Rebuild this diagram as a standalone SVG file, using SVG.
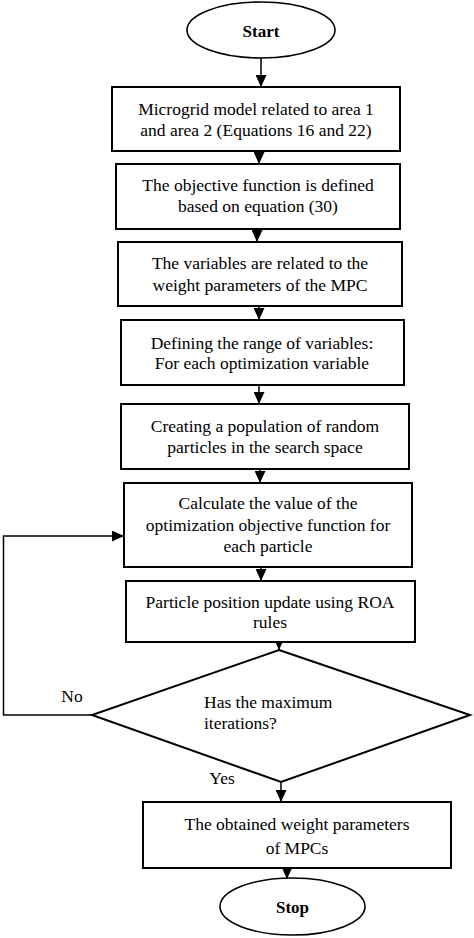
<svg xmlns="http://www.w3.org/2000/svg" width="474" height="938" viewBox="0 0 474 938">
<style>
.bx{fill:#fff;stroke:#000;stroke-width:2}
.el{fill:#fff;stroke:#000;stroke-width:1.6}
.t{font-family:"Liberation Serif","Times New Roman",serif;font-size:17.5px;fill:#000;text-anchor:middle}
.b{font-weight:bold;font-size:17px}
.l{text-anchor:start}
.c{fill:none;stroke:#000;stroke-width:1.5}
</style>
<defs>
<marker id="ah" viewBox="0 0 12 12" refX="12" refY="6" markerWidth="12" markerHeight="11" markerUnits="userSpaceOnUse" orient="auto" preserveAspectRatio="none">
<path d="M0,0 L12,6 L0,12 z" fill="#000"/>
</marker>
</defs>
<g id="connectors">
<line class="c" x1="261" y1="58" x2="261" y2="87" marker-end="url(#ah)"/>
<line class="c" x1="259" y1="151" x2="259" y2="164" marker-end="url(#ah)"/>
<line class="c" x1="257" y1="229" x2="257" y2="242" marker-end="url(#ah)"/>
<line class="c" x1="259" y1="306" x2="259" y2="320" marker-end="url(#ah)"/>
<line class="c" x1="259" y1="385" x2="259" y2="404" marker-end="url(#ah)"/>
<line class="c" x1="260" y1="469" x2="260" y2="483" marker-end="url(#ah)"/>
<line class="c" x1="261" y1="567" x2="261" y2="581" marker-end="url(#ah)"/>
<line class="c" x1="279" y1="642" x2="279" y2="650" marker-end="url(#ah)"/>
<line class="c" x1="281" y1="782" x2="281" y2="802" marker-end="url(#ah)"/>
<line class="c" x1="287" y1="868" x2="287" y2="879" marker-end="url(#ah)"/>
<polyline class="c" points="92,715 3.5,715 3.5,536 124,536" marker-end="url(#ah)"/>
<text class="t" x="72" y="702">No</text>
<text class="t" x="222" y="784">Yes</text>
</g>
<g id="start">
<ellipse class="el" cx="261" cy="30" rx="74" ry="28"/>
<text class="t b" x="261" y="37">Start</text>
</g>
<g id="box1">
<rect class="bx" x="112" y="87" width="288" height="64"/>
<text class="t" x="256" y="115">Microgrid model related to area 1</text>
<text class="t" x="256" y="136">and area 2 (Equations 16 and 22)</text>
</g>
<g id="box2">
<rect class="bx" x="116" y="164" width="284" height="65"/>
<text class="t" x="258" y="191">The objective function is defined</text>
<text class="t" x="258" y="212">based on equation (30)</text>
</g>
<g id="box3">
<rect class="bx" x="118" y="242" width="284" height="64"/>
<text class="t" x="260" y="269">The variables are related to the</text>
<text class="t" x="260" y="291">weight parameters of the MPC</text>
</g>
<g id="box4">
<rect class="bx" x="121" y="320" width="283" height="65"/>
<text class="t" x="262" y="349">Defining the range of variables:</text>
<text class="t" x="262" y="369">For each optimization variable</text>
</g>
<g id="box5">
<rect class="bx" x="121" y="404" width="288" height="65"/>
<text class="t" x="265" y="432">Creating a population of random</text>
<text class="t" x="265" y="453">particles in the search space</text>
</g>
<g id="box6">
<rect class="bx" x="124" y="483" width="288" height="84"/>
<text class="t" x="268" y="509">Calculate the value of the</text>
<text class="t" x="268" y="531">optimization objective function for</text>
<text class="t" x="268" y="552">each particle</text>
</g>
<g id="box7">
<rect class="bx" x="126" y="581" width="289" height="61"/>
<text class="t" x="270" y="608">Particle position update using ROA</text>
<text class="t" x="270" y="628">rules</text>
</g>
<g id="decision">
<polygon class="bx" points="279,650 470,715 281,782 92,715"/>
<text class="t l" x="204" y="708">Has the maximum</text>
<text class="t l" x="204" y="729">iterations?</text>
</g>
<g id="box8">
<rect class="bx" x="143" y="802" width="308" height="66"/>
<text class="t" x="297" y="830">The obtained weight parameters</text>
<text class="t" x="297" y="854">of MPCs</text>
</g>
<g id="stop">
<ellipse class="el" cx="292.5" cy="906.5" rx="72.5" ry="28.5"/>
<text class="t b" x="292.5" y="913">Stop</text>
</g>
</svg>
